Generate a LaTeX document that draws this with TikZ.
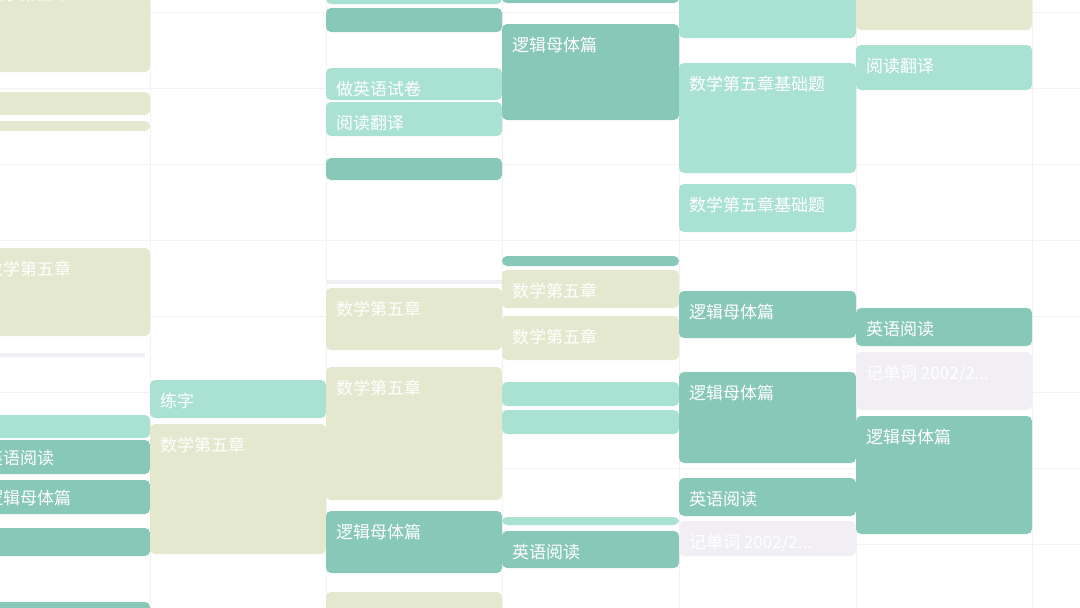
\documentclass[tikz,border=0pt]{standalone}
\usepackage{fontspec}
\newfontfamily\cjk{Noto Sans CJK SC}
\definecolor{beige}{HTML}{E4E8CF}
\definecolor{lteal}{HTML}{A9E2D3}
\definecolor{dteal}{HTML}{88C8B9}
\definecolor{lav}{HTML}{F1EFF4}
\definecolor{gridc}{HTML}{F2F2F2}
\tikzset{lbl/.style={anchor=north west,inner sep=0pt,text=white,font=\cjk\fontsize{17pt}{19pt}\selectfont}}
\newcommand{\blk}[6]{\fill[#5,rounded corners=5pt] (#1,#2) rectangle (#3,#4);
 \node[lbl] at ({#1+10},{#2+13}) {#6};}
\begin{document}
\begin{tikzpicture}[x=1pt,y=-1pt]
\useasboundingbox (0,0) rectangle (1080,608);
\clip (0,0) rectangle (1080,608);
\fill[white] (0,0) rectangle (1080,608);
\foreach \x in {150,326,502,679,856,1032} \draw[gridc] (\x,0) -- (\x,608);
\foreach \y in {12,88,164,240,316,392,468,544} \draw[gridc] (0,\y) -- (1080,\y);
% col0
\blk{-10}{-20}{150}{72}{beige}{}
\node[lbl] at (-14,-14) {数学第五章};
\blk{-10}{92}{150}{115}{beige}{}
\blk{-10}{121}{150}{131}{beige}{}
\blk{-10}{248}{150}{336}{beige}{}
\node[lbl] at (-14,261) {数学第五章};
\fill[lav] (0,353) rectangle (145,357);
\blk{-10}{415}{150}{438}{lteal}{}
\blk{-10}{440}{150}{474}{dteal}{}
\node[lbl] at (-14,450) {英语阅读};
\blk{-10}{480}{150}{514}{dteal}{}
\node[lbl] at (-14,490) {逻辑母体篇};
\blk{-10}{528}{150}{556}{dteal}{}
\blk{-10}{602}{150}{620}{dteal}{}
% col1
\blk{150}{380}{326}{418}{lteal}{练字}
\blk{150}{424}{326}{554}{beige}{数学第五章}
% col2
\blk{326}{-10}{502}{4}{lteal}{}
\blk{326}{8}{502}{32}{dteal}{}
\blk{326}{68}{502}{100}{lteal}{做英语试卷}
\blk{326}{102}{502}{136}{lteal}{阅读翻译}
\blk{326}{158}{502}{180}{dteal}{}
\fill[lav] (326,280) rectangle (502,284);
\blk{326}{288}{502}{350}{beige}{数学第五章}
\blk{326}{367}{502}{500}{beige}{数学第五章}
\blk{326}{511}{502}{573}{dteal}{逻辑母体篇}
\blk{326}{592}{502}{620}{beige}{}
% col3
\blk{502}{-10}{679}{3}{dteal}{}
\blk{502}{24}{679}{120}{dteal}{逻辑母体篇}
\blk{502}{256}{679}{266}{dteal}{}
\blk{502}{270}{679}{308}{beige}{数学第五章}
\blk{502}{316}{679}{360}{beige}{数学第五章}
\blk{502}{382}{679}{406}{lteal}{}
\blk{502}{410}{679}{434}{lteal}{}
\blk{502}{517}{679}{525}{lteal}{}
\blk{502}{531}{679}{568}{dteal}{英语阅读}
% col4
\blk{679}{-10}{856}{38}{lteal}{}
\blk{679}{63}{856}{173}{lteal}{数学第五章基础题}
\blk{679}{184}{856}{232}{lteal}{数学第五章基础题}
\blk{679}{291}{856}{338}{dteal}{逻辑母体篇}
\blk{679}{372}{856}{463}{dteal}{逻辑母体篇}
\blk{679}{478}{856}{516}{dteal}{英语阅读}
\blk{679}{521}{856}{556}{lav}{记单词 2002/2...}
% col5
\blk{856}{-10}{1032}{30}{beige}{}
\blk{856}{45}{1032}{90}{lteal}{阅读翻译}
\blk{856}{308}{1032}{346}{dteal}{英语阅读}
\blk{856}{352}{1032}{410}{lav}{记单词 2002/2...}
\blk{856}{416}{1032}{534}{dteal}{逻辑母体篇}
\end{tikzpicture}
\end{document}
